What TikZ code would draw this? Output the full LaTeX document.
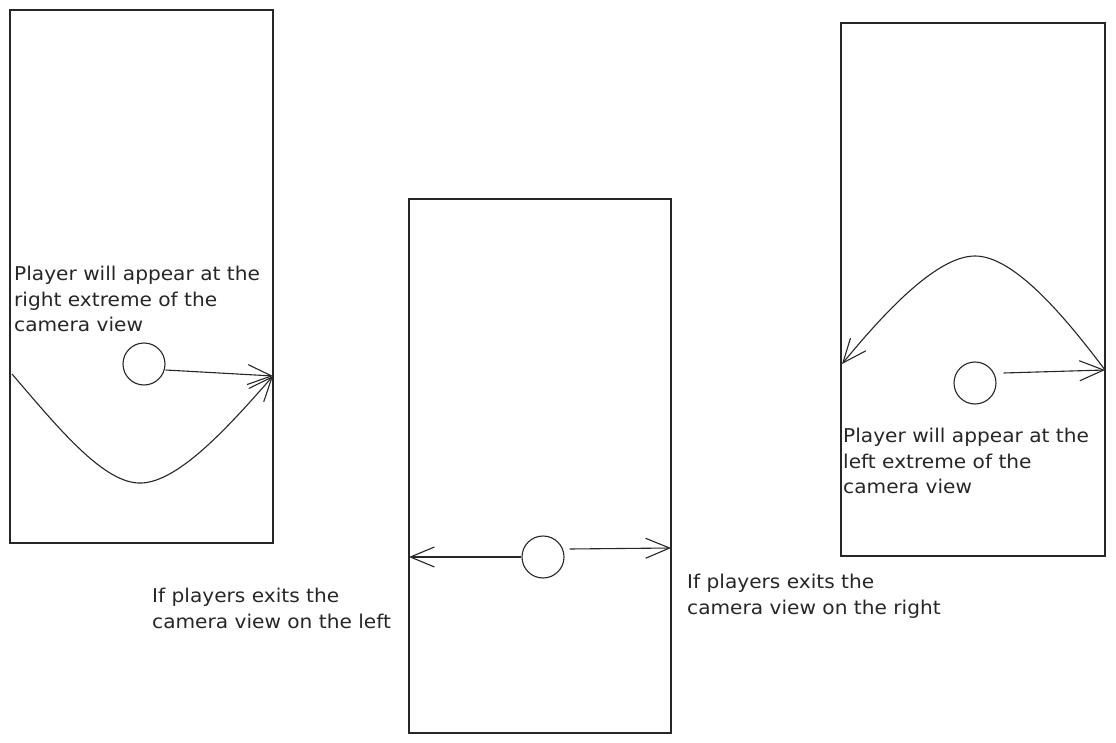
\documentclass[tikz,border=0pt]{standalone}
\usepackage{fontspec}
\setmainfont{DejaVu Sans}
\newfontfamily\handfont[FakeStretch=1.06]{DejaVu Sans}
\usetikzlibrary{arrows.meta}
\begin{document}
\begin{tikzpicture}[x=1pt,y=-1pt,
  frame/.style={draw=black!85,line width=1.1pt},
  ball/.style={draw=black!85,line width=1.1pt,circle,minimum size=42pt,inner sep=0pt},
  arr/.style={draw=black!85,line width=1.1pt,-{Straight Barb[length=24pt,width=20pt,line width=1.1pt]}},
  lbl/.style={anchor=north west,inner sep=0pt,align=left,font=\handfont\fontsize{19}{25.5}\selectfont,text=black!85}]
\useasboundingbox (0,0) rectangle (1116,743);
% frames
\draw[frame] (10,10) rectangle (273,543);
\draw[frame] (409,199) rectangle (671,733);
\draw[frame] (841,23) rectangle (1105,556);
% left frame
\node[lbl] (t1) at (14,266) {Player will appear at the\\right extreme of the\\camera view};
\node[ball] (b1) at (144,364) {};
\coordinate (e1) at (273,376);
\coordinate (s1) at (12,374);
\draw[arr] (b1.east) ++(0,6) -- (e1);
\draw[arr] (s1) .. controls (60,430) and (105,485) .. (142,483) .. controls (180,481) and (230,425) .. (e1);
% middle frame
\node[ball] (b2) at (543,557) {};
\coordinate (l2) at (409,557);
\coordinate (r2) at (671,548);
\draw[arr] (b2.west) -- (l2);
\draw[arr] ([xshift=5pt,yshift=8pt]b2.east) -- (r2);
\node[lbl] (t2) at (152,588) {If players exits the\\camera view on the left};
\node[lbl] (t3) at (687,574) {If players exits the\\camera view on the right};
% right frame
\node[ball] (b3) at (975,383) {};
\coordinate (r3) at (1105,370);
\coordinate (l3) at (842,364);
\draw[arr] ([xshift=7pt,yshift=10pt]b3.east) -- (r3);
\draw[arr] (r3) .. controls (1060,310) and (1012,256) .. (975,256) .. controls (935,256) and (880,318) .. (l3);
\node[lbl] (t4) at (843,428) {Player will appear at the\\left extreme of the\\camera view};
\end{tikzpicture}
\end{document}
